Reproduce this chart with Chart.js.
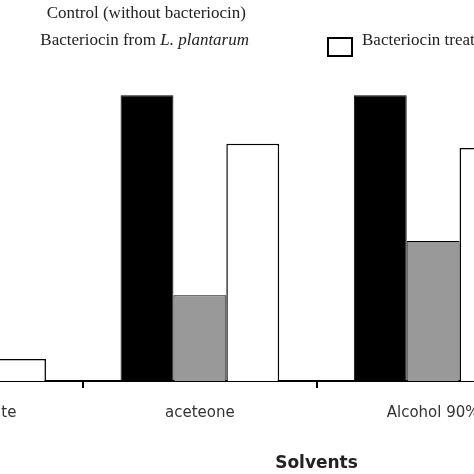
<!DOCTYPE html>
<html><head><meta charset="utf-8">
<script src="https://cdn.jsdelivr.net/npm/chart.js@4"></script>
<style>
html,body{margin:0;padding:0;width:474px;height:474px;overflow:hidden;background:#fff;position:relative}
#wrap{position:absolute;left:-150px;top:0;width:933px;height:474px}
.lg{position:absolute;font-family:"Liberation Serif",serif;font-size:17px;color:#222;white-space:nowrap}
.box{position:absolute;width:22px;height:16px;border:2px solid #000;background:#fff}
</style></head><body>
<div id="wrap"><canvas id="c" width="933" height="474"></canvas></div>
<div class="lg" style="right:228px;top:3px">Control (without bacteriocin)</div>
<div class="lg" style="right:225px;top:30px">Bacteriocin from <i>L. plantarum</i></div>
<div class="box" style="left:327px;top:37px"></div>
<div class="lg" style="left:362px;top:30px">Bacteriocin treated with solvent</div>
<script>
const categories = ["Ethyl acetate", "aceteone", "Alcohol 90%", "Methanol"];
const controlValues = [10, 10, 10, 10];
const bacteriocinValues = [6, 3, 4.9, 5];
const treatedValues = [0.77, 8.3, 8.15, 7];
const seriesNames = ["Control (without bacteriocin)", "Bacteriocin from L. plantarum", "Bacteriocin treated with solvent"];

new Chart(document.getElementById('c'), {
  type: 'bar',
  data: {
    labels: categories,
    datasets: [
      {label: seriesNames[0], data: controlValues, backgroundColor: '#000', borderColor: '#000', borderWidth: 1},
      {label: seriesNames[1], data: bacteriocinValues, backgroundColor: '#999', borderColor: '#000', borderWidth: 1},
      {label: seriesNames[2], data: treatedValues, backgroundColor: '#fff', borderColor: '#000', borderWidth: 1.5}
    ]
  },
  options: {
    responsive: false, animation: false,
    layout: {padding: {top: 38, left: 0, right: 0, bottom: 0}},
    plugins: {legend: {display: false}, tooltip: {enabled: false}},
    datasets: {bar: {categoryPercentage: 0.68, barPercentage: 1}},
    scales: {
      y: {display: false, min: 0, max: 12},
      x: {
        border: {display: true, color: '#000', width: 2},
        grid: {offset: true, drawOnChartArea: false, color: '#000', tickLength: 7, lineWidth: 2},
        ticks: {color: '#333', padding: 16, font: {family: 'DejaVu Sans', size: 15}},
        title: {display: true, text: 'Solvents', color: '#222', font: {family: 'DejaVu Sans', size: 17, weight: 'bold'}, padding: {top: 22, bottom: 0}},
        afterFit: s => { s.height = 93; }
      }
    }
  }
});
</script>
</body></html>
